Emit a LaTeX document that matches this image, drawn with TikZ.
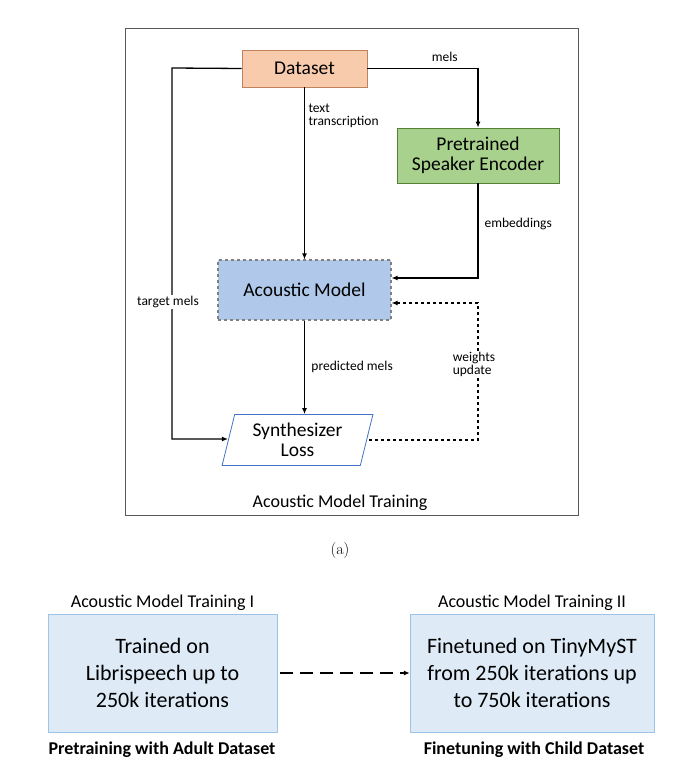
\documentclass[tikz,border=0pt]{standalone}
\usepackage{fontspec}
\setmainfont{Carlito}
\newfontfamily\serifa{Latin Modern Roman}
\usetikzlibrary{arrows.meta,shapes.geometric}
\definecolor{dsfill}{HTML}{F8CBAD}\definecolor{dsline}{HTML}{C0825A}
\definecolor{gfill}{HTML}{A9D18E}\definecolor{gline}{HTML}{548235}
\definecolor{afill}{HTML}{B0C8EA}\definecolor{bfill}{HTML}{DEEBF7}\definecolor{bline}{HTML}{9DC3E6}
\definecolor{sline}{HTML}{4472C4}
\begin{document}
\begin{tikzpicture}[x=1pt,y=-1pt,
  arr/.style={-{Latex[length=6pt,width=5pt]},line width=1.3pt},
  lbl/.style={font=\fontsize{13.5}{15}\selectfont},
  big/.style={font=\fontsize{19.5}{22}\selectfont,align=center}]
\useasboundingbox (0,0) rectangle (680,778);
\draw[gray!70!black,line width=0.8pt] (125,28) rectangle (578,515);
\node[big,draw=dsline,line width=0.8pt,fill=dsfill,minimum width=125pt,minimum height=37pt] (ds) at (304.5,68.5) {Dataset};
\node[big,draw=gline,line width=0.8pt,fill=gfill,minimum width=162pt,minimum height=55pt] (enc) at (478,155.5) {Pretrained\\[-2pt]Speaker Encoder};
\node[big,draw=gray,dashed,line width=1.1pt,fill=afill,minimum width=173pt,minimum height=60pt] (am) at (304.5,290) {Acoustic Model};
\node[big,draw=sline,line width=0.8pt,trapezium,trapezium stretches=true,trapezium left angle=75,trapezium right angle=105,minimum width=151pt,minimum height=51pt,inner sep=0pt] (sl) at (297.5,440) {Synthesizer\\[-2pt]Loss};
\coordinate (tl) at (172,68);
\coordinate (tb) at (172,439);
\draw[arr] (ds.west) -- (tl) -- (tb) -- (sl.west|-tb);
\node[lbl,fill=white,inner sep=1pt] (tm) at (168,302) {target mels};
\draw[arr] (ds.east) -| (enc.north) node[pos=0.35,above=3pt,lbl]{mels};
\draw[arr] (ds.south) -- (am.north);
\node[lbl,align=left,anchor=north west] (tt) at (305,100) {text\\[-2pt]transcription};
\coordinate (eb) at (478,278);
\draw[arr] (enc.south) -- (eb) -- (am.east|-eb);
\node[lbl,anchor=west] (em) at (481,224) {embeddings};
\draw[arr] (am.south) -- (am.south|-sl.north) node[midway,right=3pt,lbl]{predicted mels};
\coordinate (w1) at (478,440);
\coordinate (w2) at (478,303);
\draw[arr,dashed] (369,440) -- (w1) -- (w2) -- (am.east|-w2);
\node[lbl,align=left,fill=white,inner sep=1pt] (wu) at (474,364) {weights\\[-2pt]update};
\node[font=\fontsize{18}{20}\selectfont] (amt) at (340,503) {Acoustic Model Training};
\node[font=\serifa\fontsize{16}{18}\selectfont] (a) at (340,551) {(a)};
\node[font=\fontsize{22}{27}\selectfont,draw=bline,fill=bfill,minimum width=229pt,minimum height=118pt,align=center] (b1) at (162.5,673) {Trained on\\Librispeech up to\\250k iterations};
\node[font=\fontsize{22}{27}\selectfont,draw=bline,fill=bfill,minimum width=244pt,minimum height=118pt,align=center] (b2) at (532,673) {Finetuned on TinyMyST\\from 250k iterations up\\to 750k iterations};
\node[font=\fontsize{18}{20}\selectfont,above=0pt] (t1) at (b1.north) {Acoustic Model Training I};
\node[font=\fontsize{18}{20}\selectfont,above=0pt] (t2) at (b2.north) {Acoustic Model Training II};
\node[font=\bfseries\fontsize{18}{20}\selectfont] (p1) at (162,750) {Pretraining with Adult Dataset};
\node[font=\bfseries\fontsize{18}{20}\selectfont] (p2) at (534,750) {Finetuning with Child Dataset};
\draw[arr,dash pattern=on 13pt off 7pt] (b1.east)++(3,0) -- (b2.west);
\end{tikzpicture}
\end{document}
